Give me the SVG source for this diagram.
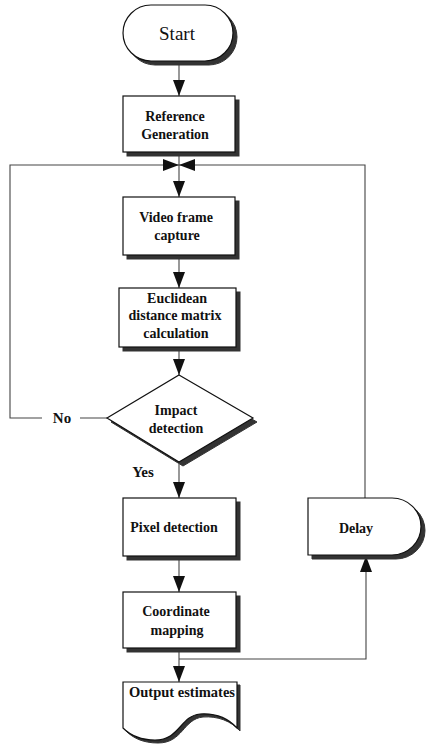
<svg xmlns="http://www.w3.org/2000/svg" width="432" height="750" viewBox="0 0 432 750">
<defs>
<style>
.sh{fill:#333;stroke:#333;stroke-width:1}
.nd{fill:#fff;stroke:#111;stroke-width:1.2}
.t{font-family:"Liberation Serif","Times New Roman",serif;font-weight:bold;font-size:14px;fill:#111;text-anchor:middle}
.c{fill:none;stroke:#444;stroke-width:1.1}
</style>
<marker id="ah" markerUnits="userSpaceOnUse" markerWidth="16" markerHeight="12" refX="16" refY="6" orient="auto">
<path d="M0,0 L16,6 L0,12 Z" fill="#111"/>
</marker>
</defs>
<rect width="432" height="750" fill="#fff"/>
<g id="connectors">
<path class="c" d="M179,63 V96" marker-end="url(#ah)"/>
<path class="c" d="M179,156 V197" marker-end="url(#ah)"/>
<path class="c" d="M107,418 H80 M42,418 H10 V165 H179" marker-end="url(#ah)"/>
<path class="c" d="M365,498 V165 H179" marker-end="url(#ah)"/>
<path class="c" d="M179,259 V288" marker-end="url(#ah)"/>
<path class="c" d="M179,351 V375" marker-end="url(#ah)"/>
<path class="c" d="M179,464 V498" marker-end="url(#ah)"/>
<path class="c" d="M179,560 V592" marker-end="url(#ah)"/>
<path class="c" d="M179,652 V682" marker-end="url(#ah)"/>
<path class="c" d="M179,659 H366 V556" marker-end="url(#ah)"/>
<text class="t" x="62" y="423" style="font-size:15px">No</text>
<text class="t" x="143" y="477" style="font-size:15px">Yes</text>
</g>
<g id="start">
<rect class="sh" x="127" y="9" width="110" height="56" rx="28"/>
<rect class="nd" x="123" y="5" width="110" height="56" rx="28"/>
<text class="t" x="177" y="40" style="font-weight:normal;font-size:19px">Start</text>
</g>
<g id="reference">
<rect class="sh" x="127" y="100" width="112" height="56"/>
<rect class="nd" x="123" y="96" width="112" height="56"/>
<text class="t" x="175" y="121">Reference</text>
<text class="t" x="175" y="139">Generation</text>
</g>
<g id="video">
<rect class="sh" x="127" y="201" width="112" height="58"/>
<rect class="nd" x="123" y="197" width="112" height="58"/>
<text class="t" x="176" y="222">Video frame</text>
<text class="t" x="177" y="240">capture</text>
</g>
<g id="euclidean">
<rect class="sh" x="123" y="292" width="117" height="59"/>
<rect class="nd" x="119" y="288" width="117" height="59"/>
<text class="t" x="177" y="303">Euclidean</text>
<text class="t" x="175" y="320">distance matrix</text>
<text class="t" x="176" y="338">calculation</text>
</g>
<g id="impact">
<path class="sh" d="M183,379 L257,422 L183,466 L111,422 Z"/>
<path class="nd" d="M179,375 L253,418 L179,462 L107,418 Z"/>
<text class="t" x="176" y="415">Impact</text>
<text class="t" x="176" y="433">detection</text>
</g>
<g id="pixel">
<rect class="sh" x="127" y="502" width="113" height="58"/>
<rect class="nd" x="123" y="498" width="113" height="58"/>
<text class="t" x="174" y="532">Pixel detection</text>
</g>
<g id="coordinate">
<rect class="sh" x="127" y="596" width="113" height="56"/>
<rect class="nd" x="123" y="592" width="113" height="56"/>
<text class="t" x="176" y="616">Coordinate</text>
<text class="t" x="177" y="635">mapping</text>
</g>
<g id="output">
<path class="sh" d="M126,685 H240 V731 C231,721 218,716 203,717 C183,719 183,743 158,743 C143,743 133,738 126,731 Z"/>
<path class="nd" d="M123,682 H237 V728 C228,718 215,713 200,714 C180,716 180,740 155,740 C140,740 130,735 123,728 Z"/>
<text class="t" x="182" y="697" style="font-size:14.5px">Output estimates</text>
</g>
<g id="delay">
<path class="sh" d="M312,502 H396 A29,28.5 0 0 1 396,559 H312 Z"/>
<path class="nd" d="M308,498 H392 A29,28.5 0 0 1 392,555 H308 Z"/>
<text class="t" x="356" y="533">Delay</text>
</g>
</svg>
